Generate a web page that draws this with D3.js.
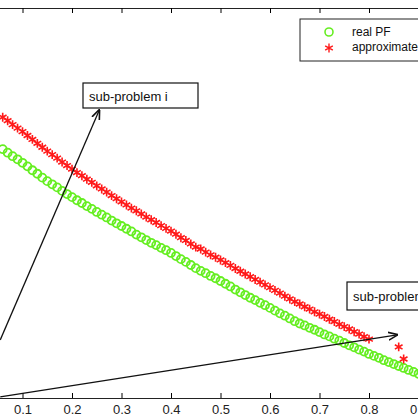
<!DOCTYPE html>
<html><head><meta charset="utf-8">
<script src="https://cdn.jsdelivr.net/npm/d3@7"></script>
<style>body{margin:0;background:#fff}svg{display:block}</style>
</head><body><svg id="c" width="418" height="418"></svg>
<script>
'use strict';

var xTicks = [0.1, 0.2, 0.3, 0.4, 0.5, 0.6, 0.7, 0.8, 0.9];

var realX = [0.06,0.07,0.08,0.09,0.10,0.11,0.12,0.13,0.14,0.15,0.16,0.17,0.18,0.19,0.20,0.21,0.22,0.23,0.24,0.25,0.26,0.27,0.28,0.29,0.30,0.31,0.32,0.33,0.34,0.35,0.36,0.37,0.38,0.39,0.40,0.41,0.42,0.43,0.44,0.45,0.46,0.47,0.48,0.49,0.50,0.51,0.52,0.53,0.54,0.55,0.56,0.57,0.58,0.59,0.60,0.61,0.62,0.63,0.64,0.65,0.66,0.67,0.68,0.69,0.70,0.71,0.72,0.73,0.74,0.75,0.76,0.77,0.78,0.79,0.80,0.81,0.82,0.83,0.84,0.85,0.86,0.87,0.88,0.89,0.90];
var realY = [.638,.629,.620,.612,.603,.594,.584,.575,.565,.556,.548,.540,.531,.523,.515,.507,.500,.492,.485,.477,.470,.463,.455,.448,.441,.434,.427,.419,.412,.405,.398,.392,.385,.379,.372,.364,.356,.349,.341,.333,.326,.320,.313,.307,.300,.293,.286,.278,.271,.264,.257,.251,.244,.238,.231,.224,.217,.211,.204,.197,.191,.186,.180,.175,.169,.163,.158,.152,.147,.141,.135,.130,.124,.119,.113,.108,.103,.097,.092,.087,.082,.077,.072,.067,.062];

var approxX = [0.06,0.07,0.08,0.09,0.10,0.11,0.12,0.13,0.14,0.15,0.16,0.17,0.18,0.19,0.20,0.21,0.22,0.23,0.24,0.25,0.26,0.27,0.28,0.29,0.30,0.31,0.32,0.33,0.34,0.35,0.36,0.37,0.38,0.39,0.40,0.41,0.42,0.43,0.44,0.45,0.46,0.47,0.48,0.49,0.50,0.51,0.52,0.53,0.54,0.55,0.56,0.57,0.58,0.59,0.60,0.61,0.62,0.63,0.64,0.65,0.66,0.67,0.68,0.69,0.70,0.71,0.72,0.73,0.74,0.75,0.76,0.77,0.78,0.79,0.80,0.86,0.87];
var approxY = [.720,.711,.701,.692,.683,.673,.663,.653,.643,.633,.624,.615,.605,.596,.587,.578,.570,.561,.553,.544,.536,.528,.519,.511,.503,.495,.487,.480,.472,.464,.457,.450,.442,.435,.428,.420,.411,.404,.395,.387,.382,.374,.367,.361,.354,.347,.340,.332,.325,.318,.311,.304,.297,.290,.283,.276,.269,.261,.254,.247,.241,.234,.228,.221,.215,.209,.202,.196,.189,.183,.177,.170,.164,.157,.151,.131,.100];

var legendLabels = ['real PF', 'approximate PF'];
var green = '#66ee22', red = '#ff1a1a';

var svg = d3.select('#c');
var x = d3.scaleLinear().domain([0, 1]).range([-27, 468]);
var y = d3.scaleLinear().domain([0, 1]).range([398, 8]);

// frame
svg.append('g').attr('transform', 'translate(0,398)')
  .call(d3.axisBottom(x).tickValues(xTicks).tickSize(-5).tickPadding(7).tickFormat(d3.format('.1f')))
  .call(function(g) {
    g.select('.domain').attr('stroke', '#222');
    g.selectAll('text').attr('font-family', 'Liberation Sans, Arial, sans-serif').attr('font-size', 13).attr('fill', '#222');
  });
svg.append('g').attr('transform', 'translate(0,8)')
  .call(d3.axisTop(x).tickValues(xTicks).tickSize(-5).tickFormat(''))
  .select('.domain').attr('stroke', '#222');

// real PF
svg.append('g').selectAll('circle').data(realX).join('circle')
  .attr('cx', function(d) { return x(d); })
  .attr('cy', function(d, i) { return y(realY[i]); })
  .attr('r', 4).attr('fill', 'none').attr('stroke', green).attr('stroke-width', 1.8);

// approximate PF
var star = d3.symbol(d3.symbolAsterisk, 55);
svg.append('g').selectAll('path').data(approxX).join('path')
  .attr('d', star)
  .attr('transform', function(d, i) { return 'translate(' + x(d) + ',' + y(approxY[i]) + ')'; })
  .attr('fill', 'none').attr('stroke', red).attr('stroke-width', 1.6);

// annotations
svg.append('defs').append('marker').attr('id', 'ah').attr('viewBox', '0 0 10 10')
  .attr('refX', 9).attr('refY', 5).attr('markerWidth', 10).attr('markerHeight', 10)
  .attr('orient', 'auto').attr('markerUnits', 'userSpaceOnUse')
  .append('path').attr('d', 'M0,1 L10,5 L0,9').attr('fill', 'none').attr('stroke', '#111').attr('stroke-width', 1.6);

var arrows = [[0.055, 0.149, 0.255, 0.738], [0.055, 0.003, 0.857, 0.162]];
svg.append('g').selectAll('line').data(arrows).join('line')
  .attr('x1', function(d) { return x(d[0]); }).attr('y1', function(d) { return y(d[1]); })
  .attr('x2', function(d) { return x(d[2]); }).attr('y2', function(d) { return y(d[3]); })
  .attr('stroke', '#111').attr('stroke-width', 1.3).attr('marker-end', 'url(#ah)');

var boxes = [{x: 83, y: 83, w: 115, h: 25, t: 'sub-problem i'}, {x: 347, y: 282, w: 110, h: 28, t: 'sub-problem j'}];
var bg = svg.append('g').selectAll('g').data(boxes).join('g');
bg.append('rect').attr('x', function(d) { return d.x; }).attr('y', function(d) { return d.y; })
  .attr('width', function(d) { return d.w; }).attr('height', function(d) { return d.h; })
  .attr('fill', '#fff').attr('stroke', '#111').attr('stroke-width', 1.2);
bg.append('text').attr('x', function(d) { return d.x + 6; }).attr('y', function(d) { return d.y + d.h / 2 + 5; })
  .attr('font-family', 'Liberation Sans, Arial, sans-serif').attr('font-size', 13).attr('fill', '#111')
  .text(function(d) { return d.t; });

// legend
var lg = svg.append('g');
lg.append('rect').attr('x', 300).attr('y', 19).attr('width', 130).attr('height', 42)
  .attr('fill', '#fff').attr('stroke', '#222').attr('stroke-width', 1);
lg.append('circle').attr('cx', 329).attr('cy', 32).attr('r', 4).attr('fill', 'none').attr('stroke', green).attr('stroke-width', 1.6);
lg.append('path').attr('d', star).attr('transform', 'translate(329,48)').attr('fill', 'none').attr('stroke', red).attr('stroke-width', 1.4);
lg.selectAll('text').data(legendLabels).join('text')
  .attr('x', 352).attr('y', function(d, i) { return 36 + i * 15; })
  .attr('font-family', 'Liberation Sans, Arial, sans-serif').attr('font-size', 12).attr('fill', '#111')
  .text(function(d) { return d; });
</script></body></html>
